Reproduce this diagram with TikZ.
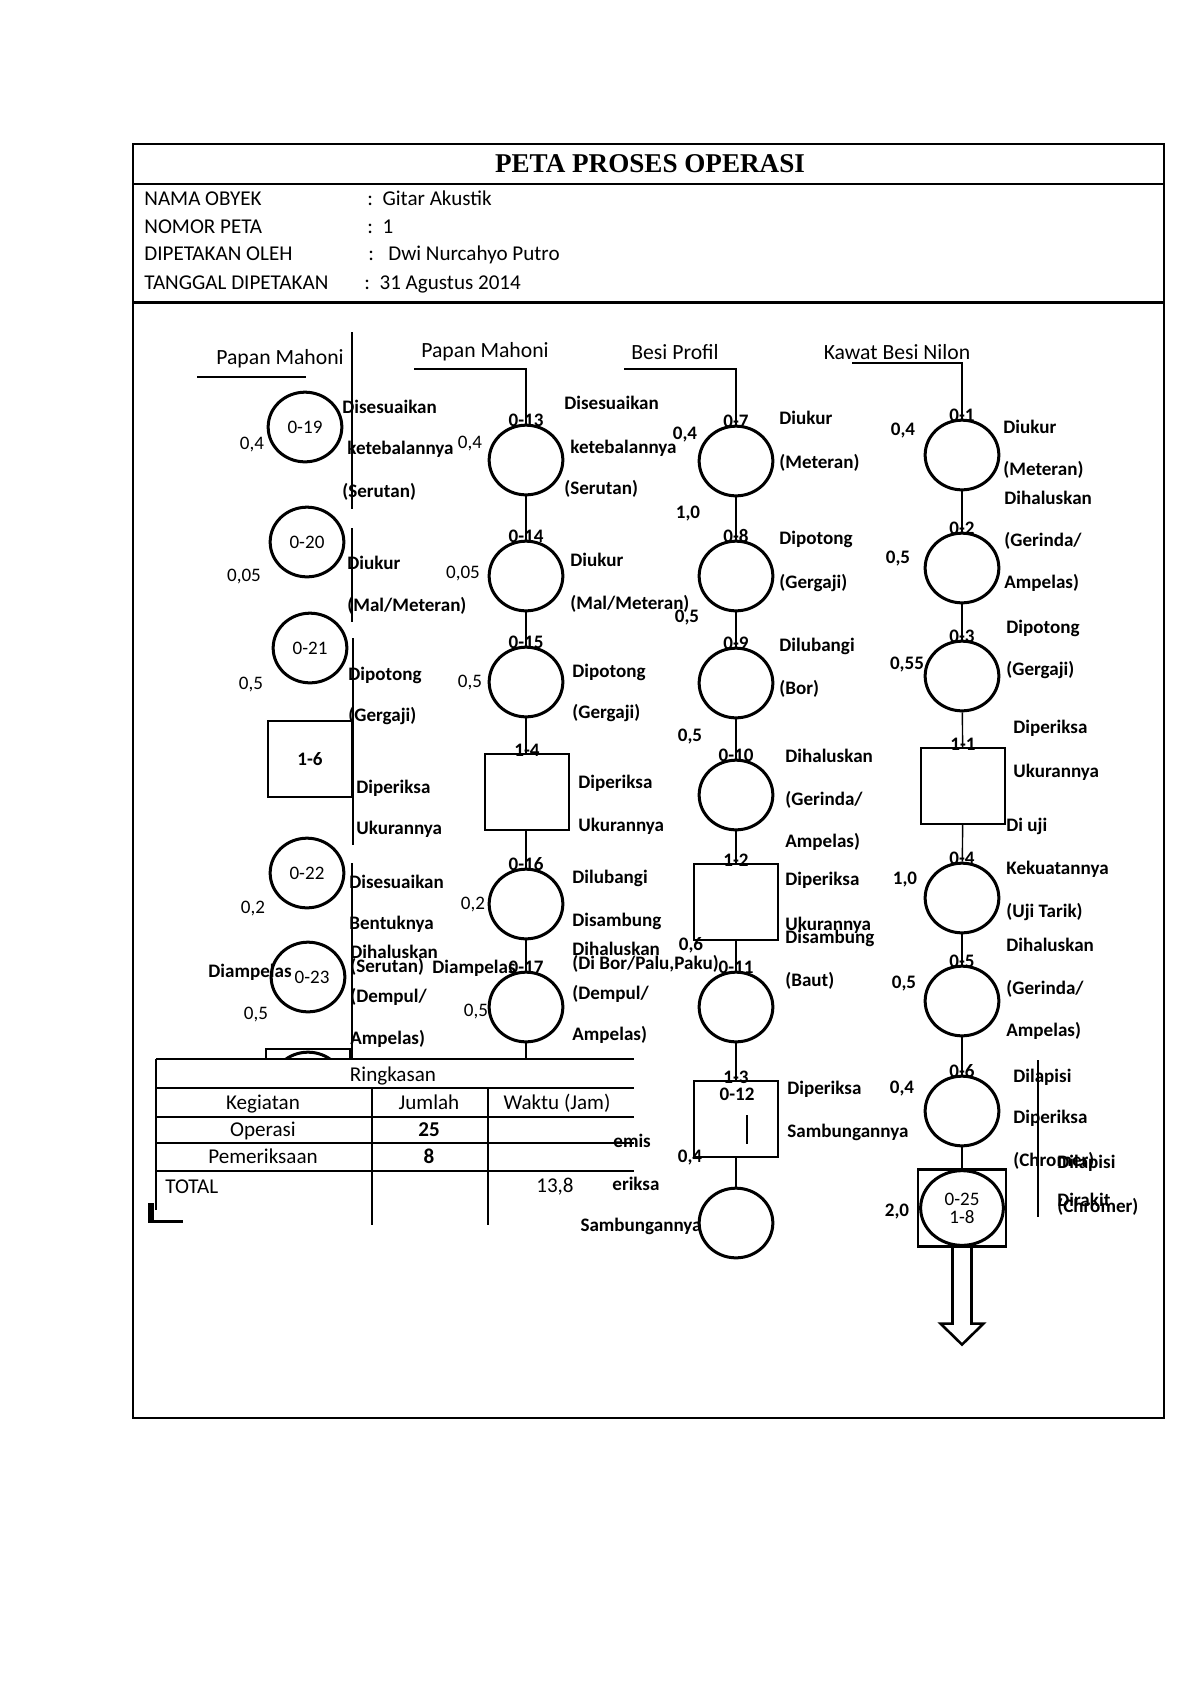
\documentclass[tikz,border=0pt]{standalone}
\usepackage{fontspec}
\setmainfont{Carlito}
\newfontfamily\titlefont{Liberation Serif}
\usetikzlibrary{shapes.geometric, arrows.meta, positioning}

\begin{document}
\begin{tikzpicture}[
    x=0.0175cm, y=-0.0175cm,
    opcirc/.style={ellipse, draw=black, line width=1.5pt, minimum width=36.7pt, minimum height=34.7pt, inner sep=0pt, font=\fontsize{9.5}{10}\selectfont},
    insbox/.style={rectangle, draw=black, line width=1.2pt, minimum width=41.7pt, minimum height=37.7pt, inner sep=0pt, font=\fontsize{9.5}{10}\selectfont\bfseries},
    desc/.style={anchor=west, inner sep=0pt, text height=6.1pt, text depth=0pt, font=\fontsize{9.5}{10}\selectfont\bfseries},
    tval/.style={inner sep=0pt, text height=6.1pt, text depth=0pt, font=\fontsize{9.5}{10}\selectfont},
    tvalb/.style={tval, font=\fontsize{9.5}{10}\selectfont\bfseries},
    steplbl/.style={inner sep=0pt, yshift=1.5pt, text height=6.1pt, text depth=0pt, font=\fontsize{9.5}{10}\selectfont\bfseries},
    hdr/.style={inner sep=0pt, text height=7pt, text depth=0pt, font=\fontsize{10.8}{12}\selectfont},
    info/.style={anchor=west, inner sep=0pt, text height=6.8pt, text depth=0pt, font=\fontsize{10.5}{12}\selectfont},
    tbl/.style={inner sep=0pt, text height=6.8pt, text depth=0pt, font=\fontsize{10.5}{12}\selectfont},
    flow/.style={line width=0.7pt},
    frame/.style={line width=1pt}
]
\useasboundingbox (0,0) rectangle (1200,1698);
\fill[white] (0,0) rectangle (1200,1698);

% === Frame and header ===
\draw[frame] (133,144) rectangle (1164,1418);
\draw[frame] (133,184) -- (1164,184);
\draw[line width=1.5pt] (133,302) -- (1164,302);
\node[font=\titlefont\fontsize{13.5}{15}\selectfont\bfseries, inner sep=0pt] (title) at (650,164) {PETA PROSES OPERASI};

\node[info] (h1) at (144,199) {NAMA OBYEK};
\node[info] (h2) at (144,227) {NOMOR PETA};
\node[info] (h3) at (144,254) {DIPETAKAN OLEH};
\node[info] (h4) at (144,283) {TANGGAL DIPETAKAN};
\node[info] (v1) at (367,199) {:\ \ Gitar Akustik};
\node[info] (v2) at (367,227) {:\ \ 1};
\node[info] (v3) at (368,254) {:\ \ \ Dwi Nurcahyo Putro};
\node[info] (v4) at (364,283) {:\ \ 31 Agustus 2014};

% === Material headers ===
\node[hdr] (pm1lbl) at (280,357) {Papan Mahoni};
\node[hdr] (pm2lbl) at (485,350) {Papan Mahoni};
\node[hdr] (bplbl) at (675,352) {Besi Profil};
\node[hdr] (kblbl) at (897,352) {Kawat Besi Nilon};
\coordinate (pm1a) at (197,377);
\coordinate (pm1b) at (306,377);
\coordinate (pm2) at (414,369);
\coordinate (bp) at (624,369);
\coordinate (kb) at (852,363);

% === Column 1 (Papan Mahoni) ===
\node[opcirc] (o19) at (305,427) {0-19};
\node[opcirc] (o20) at (307,542) {0-20};
\node[opcirc] (o21) at (310,648) {0-21};
\node[insbox] (s16) at (310,759) {1-6};
\node[opcirc] (o22) at (307,873) {0-22};
\node[opcirc] (o23) at (308,977) {};
\node[tval] (l23) at (312,977) {0-23};
\begin{scope}
  \clip (250,1040) rectangle (360,1059);
  \node[insbox] (s17) at (308,1087) {};
  \node[opcirc] (o24) at (308,1087) {};
\end{scope}

\draw[flow] (pm1a) -- (pm1b);
\draw[flow] (352,332) -- (352,509);
\draw[flow] (352,528) -- (352,622);
\draw[flow] (353,638) -- (353,845);
\draw[flow] (352,863) -- (352,1059);

\node[tval] (t19) at (252,443) {0,4};
\node[tval] (t20) at (244,575) {0,05};
\node[tval] (t21) at (251,683) {0,5};
\node[tval] (t22) at (253,907) {0,2};
\node[tval] (t23) at (256,1013) {0,5};

\node[desc] (d19a) at (342,407) {Disesuaikan};
\node[desc] (d19b) at (347,448) {ketebalannya};
\node[desc] (d19c) at (342,491) {(Serutan)};
\node[desc] (d20a) at (347,563) {Diukur};
\node[desc] (d20b) at (347,605) {(Mal/Meteran)};
\node[desc] (d21a) at (348,674) {Dipotong};
\node[desc] (d21b) at (348,715) {(Gergaji)};
\node[desc] (dq6a) at (356,787) {Diperiksa};
\node[desc] (dq6b) at (356,828) {Ukurannya};
\node[desc] (d22a) at (349,882) {Disesuaikan};
\node[desc] (d22b) at (349,923) {Bentuknya};
\node[desc] (d22c) at (350,952) {Dihaluskan};
\node[desc] (d22d) at (350,966) {(Serutan)};
\node[desc] (d23a) at (208,971) {Diampelas};
\node[desc] (d23b) at (432,967) {Diampelas};
\node[desc] (d23c) at (350,996) {(Dempul/};
\node[desc] (d23d) at (350,1038) {Ampelas)};

% === Column 2 (Papan Mahoni) ===
\node[opcirc] (o13) at (526,460) {};
\node[opcirc] (o14) at (526,576) {};
\node[opcirc] (o15) at (526,682) {};
\node[insbox] (s14) at (527,792) {};
\node[opcirc] (o16) at (526,904) {};
\node[opcirc] (o17) at (526,1007) {};
\coordinate (t2end) at (526,1059);

\draw[flow] (pm2) -| (o13.north);
\draw[flow] (o13) -- (o14);
\draw[flow] (o14) -- (o15);
\draw[flow] (o15.south) -- (o15.south |- s14.north);
\draw[flow] (s14.south -| o16.north) -- (o16.north);
\draw[flow] (o16) -- (o17);
\draw[flow] (o17) -- (t2end);

\node[steplbl] (l13) at (o13.north) {0-13};
\node[steplbl] (l14) at (o14.north) {0-14};
\node[steplbl] (l15) at (o15.north) {0-15};
\node[steplbl] (lq4) at (s14.north) {1-4};
\node[steplbl] (l16) at (o16.north) {0-16};
\node[steplbl] (l17) at (o17.north) {0-17};

\node[tval] (t13) at (470,442) {0,4};
\node[tval] (t14) at (463,572) {0,05};
\node[tval] (t15) at (470,681) {0,5};
\node[tval] (t16) at (473,903) {0,2};
\node[tval] (t17) at (476,1010) {0,5};

\node[desc] (d13a) at (564,403) {Disesuaikan};
\node[desc] (d13b) at (570,447) {ketebalannya};
\node[desc] (d13c) at (564,488) {(Serutan)};
\node[desc] (d14a) at (570,560) {Diukur};
\node[desc] (d14b) at (570,603) {(Mal/Meteran)};
\node[desc] (d15a) at (572,671) {Dipotong};
\node[desc] (d15b) at (572,712) {(Gergaji)};
\node[desc] (dq4a) at (578,782) {Diperiksa};
\node[desc] (dq4b) at (578,825) {Ukurannya};
\node[desc] (d16a) at (572,877) {Dilubangi};
\node[desc] (d16b) at (572,920) {Disambung};
\node[desc] (d16c) at (572,949) {Dihaluskan};
\node[desc] (d16d) at (572,963) {(Di Bor/Palu,Paku)};
\node[desc] (d17a) at (572,993) {(Dempul/};
\node[desc] (d17b) at (572,1034) {Ampelas)};

% === Column 3 (Besi Profil) ===
\node[opcirc] (o7) at (736,461) {};
\node[opcirc] (o8) at (736,576) {};
\node[opcirc] (o9) at (736,683) {};
\node[opcirc] (o10) at (736,795) {};
\node[insbox] (s12) at (736,902) {};
\node[opcirc] (o11) at (736,1007) {};
\node[insbox] (s13) at (736,1119) {};
\node[opcirc] (o12) at (736,1223) {};

\draw[flow] (bp) -| (o7.north);
\draw[flow] (o7) -- (o8);
\draw[flow] (o8) -- (o9);
\draw[flow] (o9) -- (o10);
\draw[flow] (o10) -- (s12);
\draw[flow] (s12) -- (o11);
\draw[flow] (o11) -- (s13);
\draw[flow] (s13) -- (o12);

\node[steplbl] (l7) at (o7.north) {0-7};
\node[steplbl] (l8) at (o8.north) {0-8};
\node[steplbl] (l9) at (o9.north) {0-9};
\node[steplbl] (l10) at (o10.north) {0-10};
\node[steplbl] (lq2) at (s12.north) {1-2};
\node[steplbl] (l11) at (o11.north) {0-11};
\node[steplbl] (lq3) at (s13.north) {1-3};
\node[steplbl, yshift=-1.5pt] (l12) at (737,1094) {0-12};
\draw[flow] (747,1115) -- (747,1144);

\node[tvalb] (t7) at (685,433) {0,4};
\node[tvalb] (t8) at (688,512) {1,0};
\node[tvalb] (t9) at (687,616) {0,5};
\node[tvalb] (t10) at (690,735) {0,5};
\node[tvalb] (t11) at (691,944) {0,6};
\node[tvalb] (t12) at (690,1156) {0,4};

\node[desc] (d7a) at (779,418) {Diukur};
\node[desc] (d7b) at (779,462) {(Meteran)};
\node[desc] (d8a) at (779,538) {Dipotong};
\node[desc] (d8b) at (779,582) {(Gergaji)};
\node[desc] (d9a) at (779,645) {Dilubangi};
\node[desc] (d9b) at (779,688) {(Bor)};
\node[desc] (d10a) at (785,756) {Dihaluskan};
\node[desc] (d10b) at (785,799) {(Gerinda/};
\node[desc] (d10c) at (785,841) {Ampelas)};
\node[desc] (dq2a) at (785,879) {Diperiksa};
\node[desc] (dq2b) at (785,924) {Ukurannya};
\node[desc] (d11a) at (785,937) {Disambung};
\node[desc] (d11b) at (785,980) {(Baut)};
\node[desc] (dq3a) at (787,1088) {Diperiksa};
\node[desc] (dq3b) at (787,1131) {Sambungannya};
\node[desc, anchor=east] (d12a) at (702,1225) {Sambungannya};
\node[desc] (x1) at (613,1141) {emis};
\node[desc] (x2) at (612,1184) {eriksa};

% === Column 4 (Kawat Besi Nilon) ===
\node[opcirc] (o1) at (962,455) {};
\node[opcirc] (o2) at (962,568) {};
\node[opcirc] (o3) at (962,676) {};
\node[insbox] (s11) at (963,786) {};
\node[opcirc] (o4) at (962,898) {};
\node[opcirc] (o5) at (962,1001) {};
\node[opcirc] (o6) at (962,1111) {};
\node[insbox, minimum width=43.7pt, minimum height=38.2pt] (s18) at (962,1208) {};
\node[opcirc, minimum width=41.2pt, minimum height=37.2pt, align=center] (o25) at (962,1208) {0-25\\[-1pt]1-8};

\draw[flow] (kb) -| (o1.north);
\draw[flow] (o1) -- (o2);
\draw[flow] (o2) -- (o3);
\draw[flow] (o3) -- (s11);
\draw[flow] (s11) -- (o4);
\draw[flow] (o4) -- (o5);
\draw[flow] (o5) -- (o6);
\draw[flow] (o6) -- (s18);
\draw[line width=1.3pt] (s18.south) ++(-9.5,0) -- ++(0,76) -- ++(-12,0) -- ++(21.5,21)
    -- ++(21.5,-21) -- ++(-12,0) -- ++(0,-76);
\draw[flow] (1038,1060) -- (1038,1217);

\node[steplbl] (l1) at (o1.north) {0-1};
\node[steplbl] (l2) at (o2.north) {0-2};
\node[steplbl] (l3) at (o3.north) {0-3};
\node[steplbl] (lq1) at (s11.north) {1-1};
\node[steplbl] (l4) at (o4.north) {0-4};
\node[steplbl] (l5) at (o5.north) {0-5};
\node[steplbl] (l6) at (o6.north) {0-6};

\node[tvalb] (t1) at (903,429) {0,4};
\node[tvalb] (t2) at (898,557) {0,5};
\node[tvalb] (t3) at (907,663) {0,55};
\node[tvalb] (t4) at (905,878) {1,0};
\node[tvalb] (t5) at (904,982) {0,5};
\node[tvalb] (t6) at (902,1087) {0,4};
\node[tvalb] (t25) at (897,1210) {2,0};

\node[desc] (d1a) at (1003,427) {Diukur};
\node[desc] (d1b) at (1003,469) {(Meteran)};
\node[desc] (d2a) at (1004,498) {Dihaluskan};
\node[desc] (d2b) at (1004,540) {(Gerinda/};
\node[desc] (d2c) at (1004,582) {Ampelas)};
\node[desc] (d3a) at (1006,627) {Dipotong};
\node[desc] (d3b) at (1006,669) {(Gergaji)};
\node[desc] (dq1a) at (1013,727) {Diperiksa};
\node[desc] (dq1b) at (1013,771) {Ukurannya};
\node[desc] (d4a) at (1006,825) {Di uji};
\node[desc] (d4b) at (1006,868) {Kekuatannya};
\node[desc] (d4c) at (1006,911) {(Uji Tarik)};
\node[desc] (d5a) at (1006,945) {Dihaluskan};
\node[desc] (d5b) at (1006,988) {(Gerinda/};
\node[desc] (d5c) at (1006,1030) {Ampelas)};
\node[desc] (d6a) at (1013,1076) {Dilapisi};
\node[desc] (d6b) at (1013,1117) {Diperiksa};
\node[desc] (d6c) at (1013,1160) {(Chromer)};
\node[desc] (d25a) at (1057,1162) {Dilapisi};
\node[desc] (d25b) at (1057,1200) {Dirakit};
\node[desc] (d25c) at (1057,1206) {(Chromer)};

% === Ringkasan table ===
\draw[line width=1.2pt] (156,1059) -- (634,1059);
\draw[flow] (156,1088) -- (634,1088);
\draw[line width=1.2pt] (156,1117) -- (634,1117);
\draw[line width=1.2pt] (156,1143) -- (634,1143);
\draw[flow] (156,1171) -- (634,1171);
\draw[flow] (156,1059) -- (156,1210);
\draw[line width=1.1pt] (372,1088) -- (372,1225);
\draw[flow] (488,1088) -- (488,1225);
\draw[line width=3pt] (151,1203) -- (151,1222);
\draw[line width=1.5pt] (148,1221) -- (183,1221);

\node[tbl] (rk) at (393,1075) {Ringkasan};
\node[tbl] (kg) at (263,1103) {Kegiatan};
\node[tbl] (jm) at (429,1103) {Jumlah};
\node[tbl] (wk) at (557,1103) {Waktu (Jam)};
\node[tbl] (op) at (263,1130) {Operasi};
\node[tbl, font=\fontsize{10.5}{12}\selectfont\bfseries] (opn) at (429,1130) {25};
\node[tbl] (pm) at (263,1157) {Pemeriksaan};
\node[tbl, font=\fontsize{10.5}{12}\selectfont\bfseries] (pmn) at (429,1157) {8};
\node[tbl, anchor=west] (tot) at (165,1187) {TOTAL};
\node[tbl] (totn) at (555,1186) {13,8};

\end{tikzpicture}
\end{document}
